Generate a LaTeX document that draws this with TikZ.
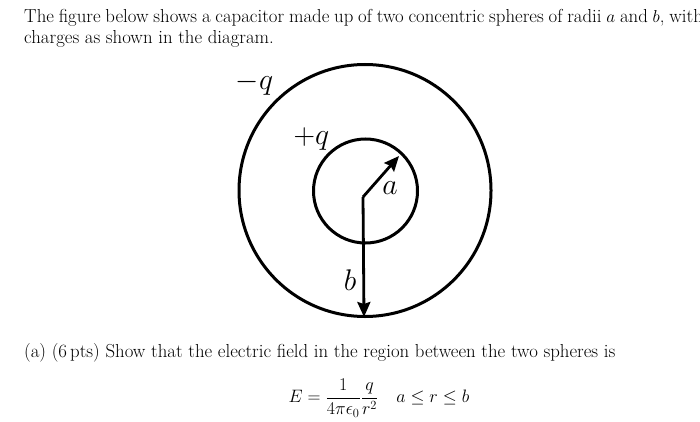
\documentclass[tikz,border=0pt]{standalone}
\usepackage{amsmath}
\usepackage{amssymb}
\usetikzlibrary{arrows.meta}
\tikzset{
  sphere/.style = {draw, circle, line width=3pt, inner sep=0pt},
  radius/.style = {-{Stealth[length=15pt,width=13pt,inset=2pt]}, line width=2.8pt},
  charge/.style = {inner sep=0pt, scale=1.2, font=\fontsize{24.88}{30}\selectfont},
  para/.style = {anchor=base west, inner sep=0pt, font=\fontsize{18.8}{22}\selectfont},
}
\begin{document}
\begin{tikzpicture}[x=1pt, y=-1pt]
\useasboundingbox (0,0) rectangle (700,422);
\node[para] (line1) at (24,23) {\spaceskip=4.8pt The figure below shows a capacitor made up of two concentric spheres of radii $a$ and $b$, with};
\node[para] (line2) at (24,44) {charges as shown in the diagram.};
% spheres
\node[sphere, minimum size=252pt] (outer) at (365,190.5) {};
\node[sphere, minimum size=104pt] (inner) at (365.5,191) {};
\coordinate (centre) at (363,197);
\coordinate (tipa) at (399,156);
\coordinate (tipb) at (364,317);
\draw[radius] (centre) -- (tipa);
\draw[radius] (centre) -- (tipb);
\node[charge] (minusq) at (254.5,84) {$-q$};
\node[charge] (plusq) at (311.5,139) {$+q$};
\node[charge] (labela) at (390,188) {$a$};
\node[charge] (labelb) at (350,280) {$b$};
\node[para] (parta) at (24,357) {(a) (6\,pts) Show that the electric field in the region between the two spheres is};
\node[inner sep=0pt, scale=1.04, font=\fontsize{17.28}{21}\selectfont] (field) at (379,398) {$\displaystyle E=\frac{1}{4\pi\epsilon_0}\frac{q}{r^2}\quad a\leq r\leq b$};
\end{tikzpicture}
\end{document}
